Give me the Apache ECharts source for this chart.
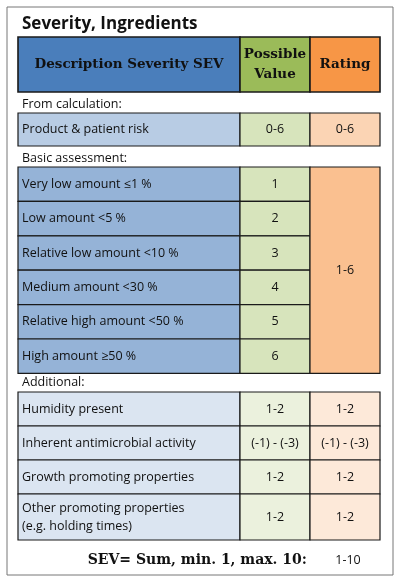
<!DOCTYPE html>
<html>
<head>
<meta charset="utf-8">
<script src="https://cdn.jsdelivr.net/npm/echarts@6/dist/echarts.min.js"></script>
<style>html,body{margin:0;padding:0;background:#fff}#chart{width:400px;height:583px}</style>
</head>
<body>
<div id="chart"></div>
<script>
var title = 'Severity, Ingredients';
var headers = ['Description Severity SEV', 'Possible\nValue', 'Rating'];
var calcLabel = 'From calculation:';
var calcRows = [['Product & patient risk', '0-6', '0-6']];
var basicLabel = 'Basic assessment:';
var basicRows = ['Very low amount \u22641 %', 'Low amount <5 %', 'Relative low amount <10 %',
                 'Medium amount <30 %', 'Relative high amount <50 %', 'High amount \u226550 %'];
var basicValues = ['1', '2', '3', '4', '5', '6'];
var basicRating = '1-6';
var addLabel = 'Additional:';
var addRows = [['Humidity present', '1-2', '1-2'],
               ['Inherent antimicrobial activity', '(-1) - (-3)', '(-1) - (-3)'],
               ['Growth promoting properties', '1-2', '1-2'],
               ['Other promoting properties\n(e.g. holding times)', '1-2', '1-2']];
var sumLabel = 'SEV= Sum, min. 1, max. 10:';
var sumValue = '1-10';

var colX = [18, 240, 310, 380];
var sans = '"Open Sans", "Noto Sans", sans-serif';
var serif = '"DejaVu Serif", "Liberation Serif", serif';
var els = [];

function cell(x0, x1, y0, y1, fill, text, opt) {
    opt = opt || {};
    els.push({
        type: 'rect',
        shape: {x: x0, y: y0, width: x1 - x0, height: y1 - y0},
        style: {fill: fill, stroke: '#1a1a1a', lineWidth: opt.lw || 1.2}
    });
    var left = opt.align === 'left';
    els.push({
        type: 'text',
        x: left ? x0 + 4 : (x0 + x1) / 2,
        y: (y0 + y1) / 2,
        style: {
            text: text, fill: '#111', align: left ? 'left' : 'center', verticalAlign: 'middle',
            font: (opt.bold ? 'bold ' : '') + (opt.size || 12.5) + 'px ' + (opt.family || sans),
            lineHeight: opt.lh || 16
        }
    });
}
function label(y, text) {
    els.push({type: 'text', x: 22, y: y, style: {text: text, fill: '#111', font: '12.5px ' + sans, verticalAlign: 'middle'}});
}

// outer frame and title
els.push({type: 'rect', shape: {x: 7, y: 7, width: 386, height: 568}, style: {fill: '#fff', stroke: '#777', lineWidth: 1}});
els.push({type: 'text', x: 22, y: 24, style: {text: title, fill: '#111', font: 'bold 17px ' + sans, verticalAlign: 'middle'}});

// header
var hColors = ['#4a7ebb', '#9bbb59', '#f79646'];
for (var i = 0; i < 3; i++) {
    cell(colX[i], colX[i + 1], 37, 92, hColors[i], headers[i], {bold: true, size: 13.5, family: serif, lh: 20, lw: 1.6});
}

// from calculation
label(104, calcLabel);
var cColors = ['#b8cce4', '#d7e4bc', '#fbd4b4'];
calcRows.forEach(function (r) {
    for (var i = 0; i < 3; i++) cell(colX[i], colX[i + 1], 113, 146, cColors[i], r[i], {align: i === 0 ? 'left' : 'center'});
});

// basic assessment
label(158, basicLabel);
var by = 167, bh = 34.4;
basicRows.forEach(function (r, k) {
    var y0 = by + k * bh;
    cell(colX[0], colX[1], y0, y0 + bh, '#95b3d7', r, {align: 'left'});
    cell(colX[1], colX[2], y0, y0 + bh, '#d7e4bc', basicValues[k]);
});
cell(colX[2], colX[3], by, by + bh * basicRows.length, '#fac090', basicRating);

// additional
label(382, addLabel);
var aColors = ['#dbe5f1', '#ebf1dd', '#fde9d9'];
var ay = 392, aH = [34, 34, 34, 46];
addRows.forEach(function (r, k) {
    for (var i = 0; i < 3; i++) cell(colX[i], colX[i + 1], ay, ay + aH[k], aColors[i], r[i], {align: i === 0 ? 'left' : 'center', lh: 18});
    ay += aH[k];
});

// sum line
els.push({type: 'text', x: 307, y: 560, style: {text: sumLabel, fill: '#111', align: 'right', verticalAlign: 'middle', font: 'bold 14px ' + serif}});
els.push({type: 'text', x: 348, y: 560, style: {text: sumValue, fill: '#111', align: 'center', verticalAlign: 'middle', font: '12.5px ' + sans}});

var chart = echarts.init(document.getElementById('chart'));
chart.setOption({animation: false, graphic: {elements: els}});
</script>
</body>
</html>
